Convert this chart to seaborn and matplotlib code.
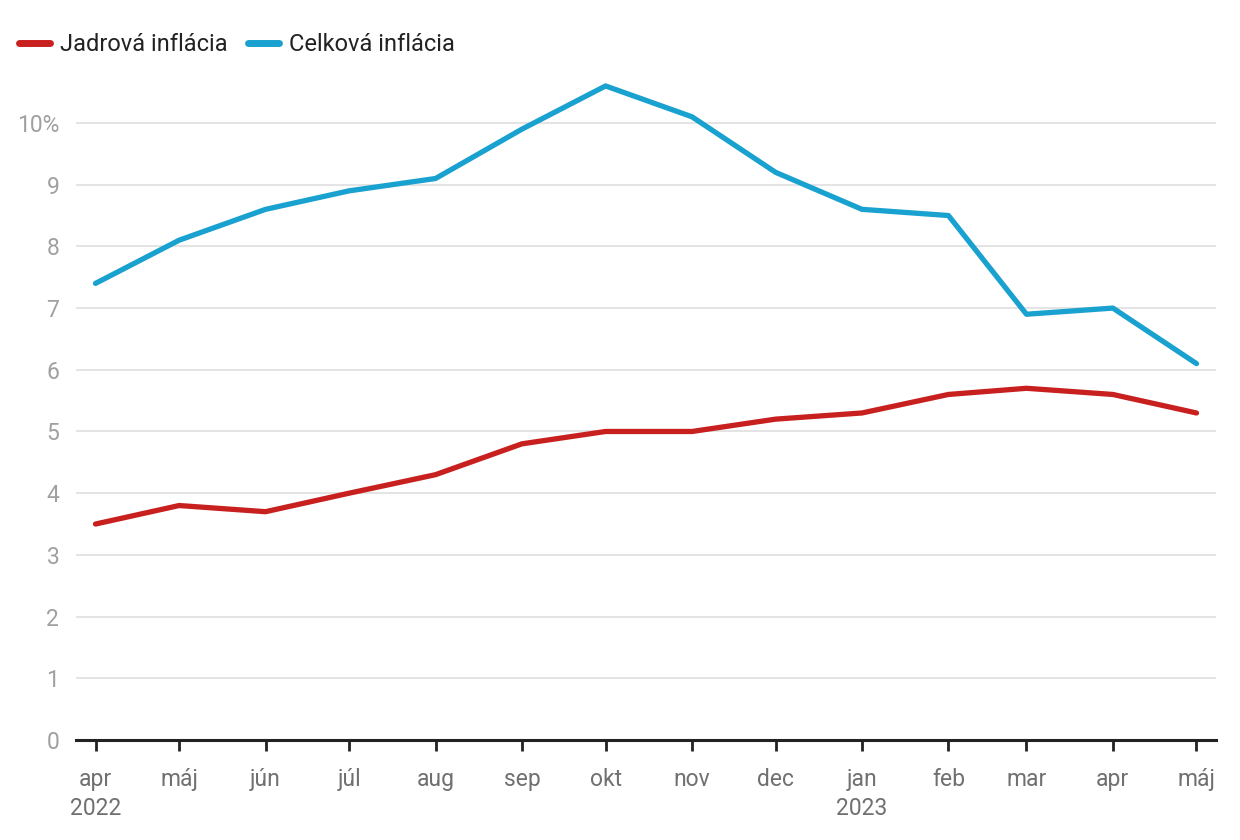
import matplotlib
matplotlib.use("Agg")
import matplotlib.pyplot as plt
import seaborn as sns
import pandas as pd

months = pd.date_range("2022-04-01", "2023-05-01", freq="MS")
month_labels = ["apr\n2022", "máj", "jún", "júl", "aug", "sep", "okt", "nov", "dec",
                "jan\n2023", "feb", "mar", "apr", "máj"]
core = [3.5, 3.8, 3.7, 4.0, 4.3, 4.8, 5.0, 5.0, 5.2, 5.3, 5.6, 5.7, 5.6, 5.3]
headline = [7.4, 8.1, 8.6, 8.9, 9.1, 9.9, 10.6, 10.1, 9.2, 8.6, 8.5, 6.9, 7.0, 6.1]
series_names = ["Jadrová inflácia", "Celková inflácia"]
colors = ["#c8201e", "#19a1d0"]
yticks = list(range(0, 11))
ytick_labels = [str(v) for v in yticks[:-1]] + ["10%"]

df = pd.DataFrame({"date": list(months) * 2,
                   "value": core + headline,
                   "series": [series_names[0]] * len(core) + [series_names[1]] * len(headline)})

sns.set_theme(style="white")
plt.rcParams["font.family"] = ["Roboto", "DejaVu Sans"]

fig = plt.figure(figsize=(12.4, 8.4), dpi=100)
ax_w = (1216 - 76) / 1240
ax = fig.add_axes([76 / 1240, 1 - 740 / 840, ax_w, (740 - 73.6) / 840])

sns.lineplot(data=df, x="date", y="value", hue="series", palette=colors,
             linewidth=3.8, ax=ax, legend=True)

ax.set_xlim(pd.Timestamp("2022-03-25"), pd.Timestamp("2023-05-08"))
ax.set_ylim(0, 10.8)
ax.set_yticks(yticks)
ax.set_yticklabels(ytick_labels)
ax.set_xticks(months)
ax.set_xticklabels(month_labels)
ax.set_xlabel("")
ax.set_ylabel("")

ax.grid(axis="y", color="#e2e2e2", linewidth=1.3)
ax.set_axisbelow(True)
for s in ["top", "right", "left"]:
    ax.spines[s].set_visible(False)
ax.spines["bottom"].set_color("#222222")
ax.spines["bottom"].set_linewidth(2.2)
ax.spines["bottom"].set_zorder(5)

ax.tick_params(axis="y", length=0, labelsize=16.5, labelcolor="#a0a0a0", pad=12)
ax.tick_params(axis="x", length=8, width=2, color="#222222", labelsize=16.5,
               labelcolor="#707070", pad=12, bottom=True)
for lbl in ax.get_xticklabels():
    lbl.set_linespacing(1.35)
    lbl.set_verticalalignment("top")

leg = ax.legend(loc="upper left", bbox_to_anchor=(-66 / 1240 / ax_w, 1.075),
                frameon=False, ncol=2, fontsize=17, handlelength=1.3, handletextpad=0.4,
                columnspacing=0.9, borderaxespad=0)
for h in leg.get_lines():
    h.set_linewidth(5)
    h.set_solid_capstyle("round")
for t in leg.get_texts():
    t.set_color("#222222")

fig.savefig("out.png", dpi=100)
